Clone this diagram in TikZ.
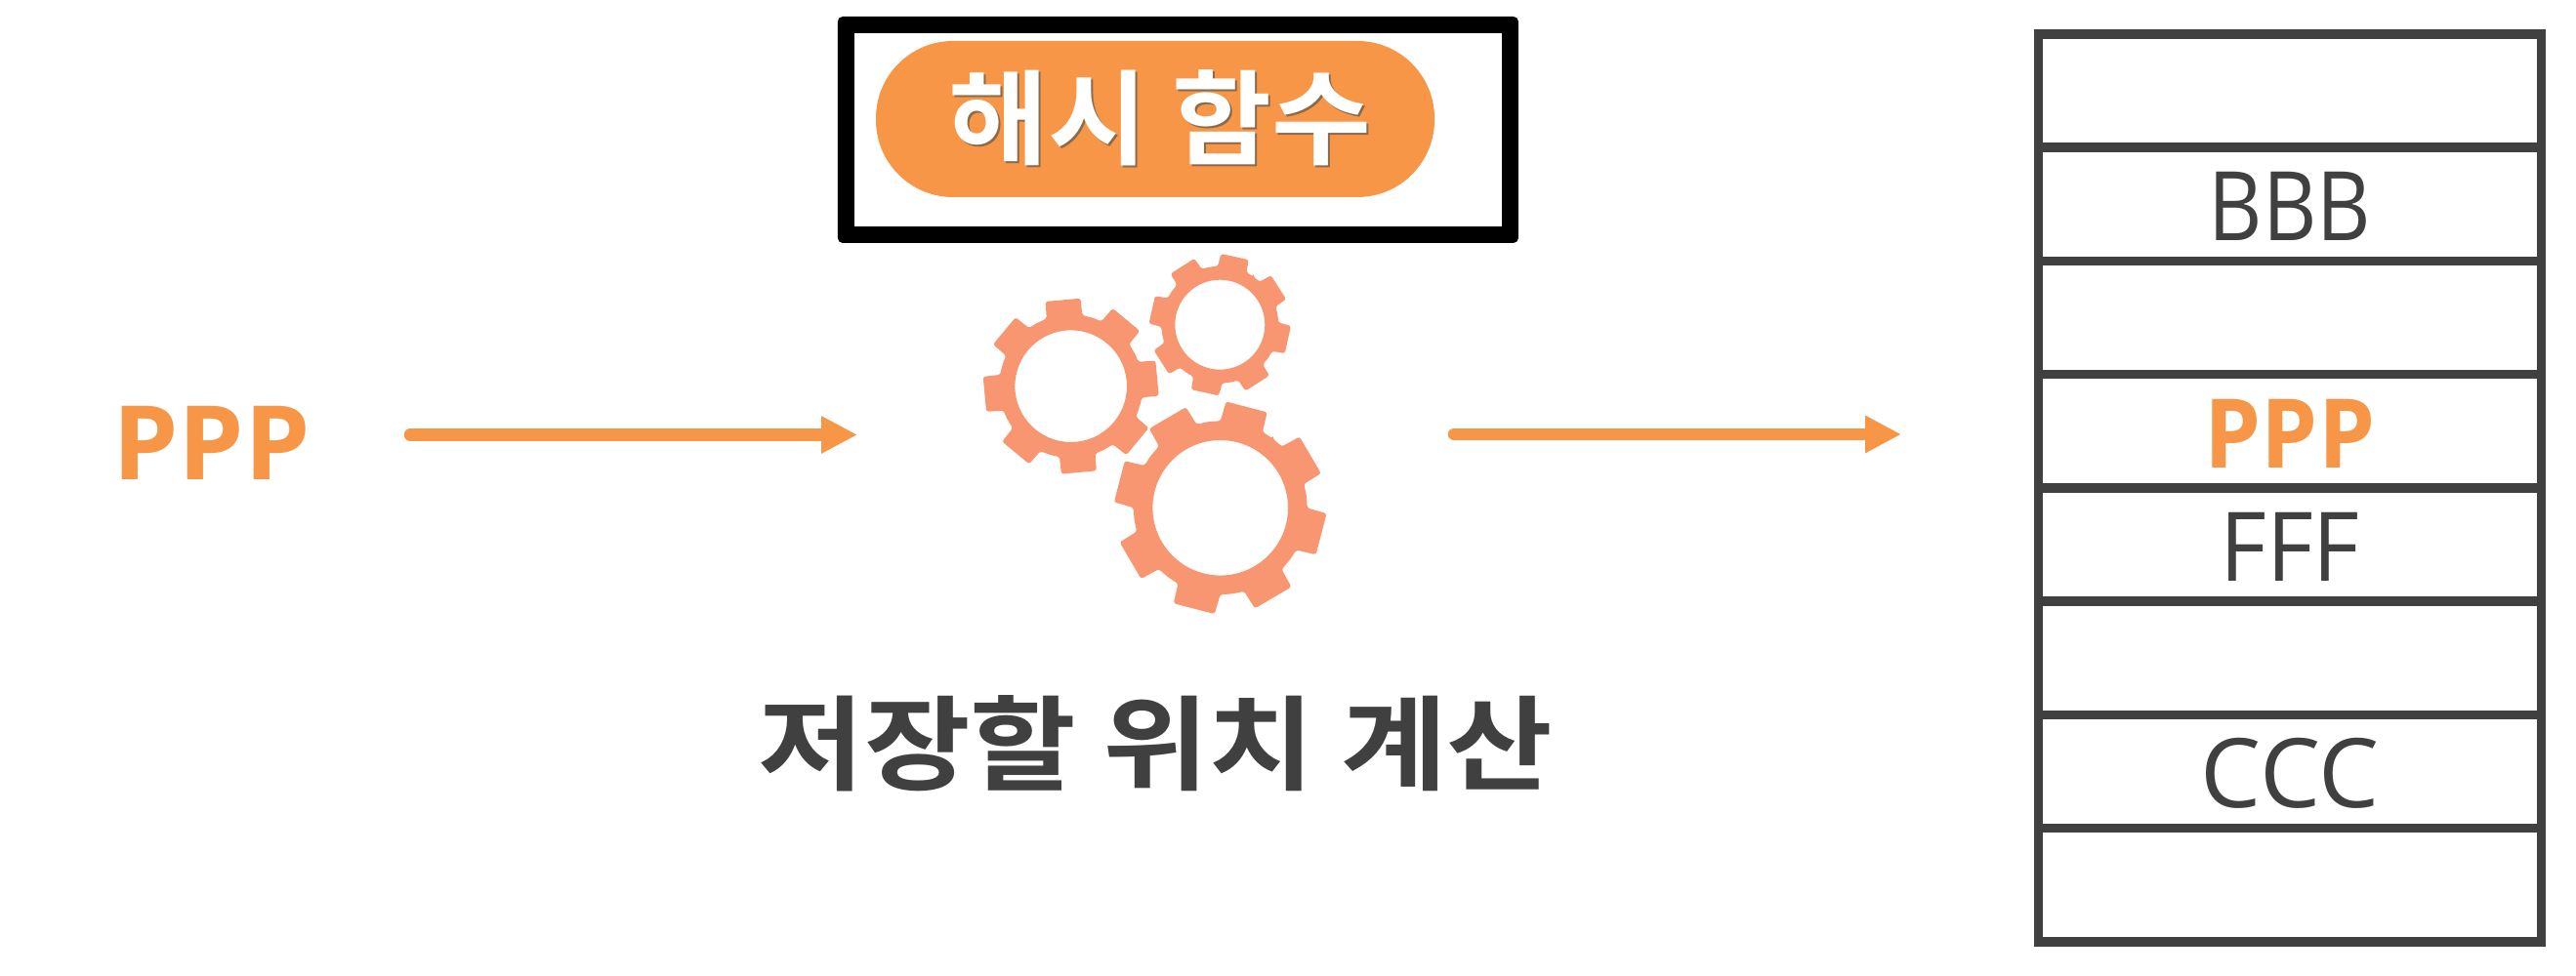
\documentclass[tikz,border=0pt]{standalone}
\usepackage{fontspec}
\usetikzlibrary{arrows.meta}
\newfontfamily\krfont[FakeStretch=1.05,BoldFont={Noto Sans CJK KR Bold}]{Noto Sans CJK KR}
\newfontfamily\krwide[FakeStretch=1.12,BoldFont={Noto Sans CJK KR Bold}]{Noto Sans CJK KR}
\newfontfamily\latinfont[FakeStretch=0.94]{Open Sans}
\newfontfamily\latinnarrow[FakeStretch=0.87]{Open Sans}
\newfontfamily\latinwide[FakeStretch=1.0]{Open Sans}
\newfontfamily\keyfont[FakeStretch=1.02]{Open Sans}
\definecolor{hashorange}{HTML}{F79646}
\definecolor{gearorange}{HTML}{F79670}
\definecolor{darkgray}{HTML}{404040}
\definecolor{shadowbrown}{HTML}{8A6A4A}
\newcommand{\dropshadow}[1]{\rlap{\hspace{0.02cm}\raisebox{-0.02cm}{\color{shadowbrown}#1}}#1}
% centre x, centre y, tip radius, root radius, hole radius, first tooth angle
\newcommand{\drawgear}[6]{
   \fill[gearorange,even odd rule,rounded corners=0.025cm,shift={(#1,#2)}]
      (#6-22.5:#4)
      \foreach \k [evaluate=\k as \a using #6+45*\k] in {0,...,7} {
         -- (\a-14.5:#4) -- (\a-11.5:#3) -- (\a+11.5:#3) -- (\a+14.5:#4) -- (\a+22.5:#4)
      } -- cycle
      (0,0) circle (#5);
}
\tikzset{
   framebox/.style={fill=black,rounded corners=0.05cm,inner sep=0pt,outer sep=0pt},
   innerbox/.style={fill=white,inner sep=0pt,outer sep=0pt},
   pillbox/.style={fill=hashorange,rounded corners=0.79cm,inner sep=0pt,outer sep=0pt,
      minimum width=5.72cm,minimum height=1.6cm,text=white,font=\krfont\bfseries\fontsize{30}{30}\selectfont},
   rowbox/.style={draw=darkgray,line width=0.095cm,minimum width=5.146cm,minimum height=1.1625cm,
      inner sep=0pt,text height=0.75cm,text=darkgray,font=\latinfont\fontsize{28}{28}\selectfont},
   narrowrow/.style={font=\latinnarrow\fontsize{28}{28}\selectfont},
   widerow/.style={font=\latinwide\fontsize{28}{28}\selectfont},
   hitrow/.style={text=hashorange,font=\latinfont\bfseries\fontsize{28}{28}\selectfont},
   keytext/.style={text=hashorange,inner sep=0pt,font=\keyfont\bfseries\fontsize{30}{30}\selectfont},
   steptext/.style={text=darkgray,inner sep=0pt,font=\krwide\bfseries\fontsize{30}{30}\selectfont},
   flow/.style={hashorange,line width=0.125cm,line cap=round,-{Triangle[length=0.37cm,width=0.36cm]}}
}
\begin{document}
\begin{tikzpicture}
   \useasboundingbox (0,0) rectangle (26.38,10);
   % hash function box
   \node[framebox,minimum width=6.97cm,minimum height=2.32cm] (hashframe) at (12.064,8.67) {};
   \node[innerbox,minimum width=6.635cm,minimum height=1.98cm] (hashinner) at (12.064,8.67) {};
   \node[pillbox] (hashpill) at (11.83,8.78) {\hspace*{0.1cm}\dropshadow{해시 함수}};
   % gears
   \drawgear{12.497}{4.797}{1.09}{0.89}{0.693}{75.4}
   \drawgear{10.967}{6.043}{0.905}{0.735}{0.573}{5.3}
   \drawgear{12.493}{6.673}{0.727}{0.6}{0.46}{77.6}
   \coordinate (gearsin) at (8.78,5.545);
   \coordinate (gearsout) at (19.47,5.55);
   \coordinate (keyout) at (4.2,5.545);
   \coordinate (tablein) at (14.89,5.55);
   \node[steptext] (steplabel) at (11.835,2.38) {저장할 위치 계산};
   \node[keytext] (keylabel) at (2.167,5.46) {PPP};
   % table
   \node[rowbox] (rowa) at (23.45,9.07) {};
   \node[rowbox,narrowrow] (rowb) at (23.45,7.9075) {BBB};
   \node[rowbox] (rowc) at (23.45,6.745) {};
   \node[rowbox,hitrow] (rowd) at (23.45,5.5825) {PPP};
   \node[rowbox] (rowe) at (23.45,4.42) {FFF};
   \node[rowbox] (rowf) at (23.45,3.2575) {};
   \node[rowbox,widerow] (rowg) at (23.45,2.095) {CCC};
   \node[rowbox] (rowh) at (23.45,0.9325) {};
   % arrows
   \draw[flow] (keyout) -- (gearsin);
   \draw[flow] (tablein) -- (gearsout);
\end{tikzpicture}
\end{document}
